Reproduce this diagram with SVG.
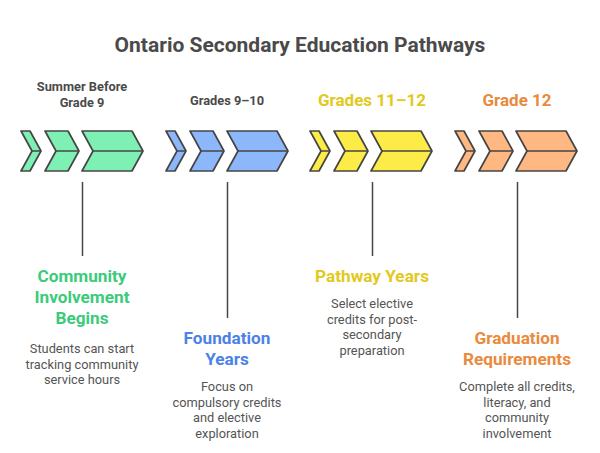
<svg xmlns="http://www.w3.org/2000/svg" width="600" height="453" viewBox="0 0 600 453">
<style>
text{font-family:Roboto,"Liberation Sans",sans-serif;text-anchor:middle}
.title{font-size:21px;font-weight:bold;fill:#4a4a4a}
.lab{font-size:12.8px;font-weight:bold;fill:#4a4a4a}
.labc{font-size:17px;font-weight:bold}
.head{font-size:17.2px;font-weight:bold}
.desc{font-size:12.8px;fill:#555}
.chev{stroke:#454545;stroke-width:1.7;stroke-linejoin:round}
.mid{stroke:#454545;stroke-width:1.3}
.conn{stroke:#454545;stroke-width:1.5}
.g{fill:#7ff0b4}.b{fill:#8db7fb}.y{fill:#fdeb48}.o{fill:#ffb882}
.tg{fill:#3ccb7a}.tb{fill:#4c82e8}.ty{fill:#e2c91c}.to{fill:#e98a3c}
</style>
<defs>
<g id="chevs">
<path class="chev" d="M21,131 H30 L41,151 L30,171 H21 L32,151 Z"/>
<path class="chev" d="M45,131 H68 L79,151 L68,171 H45 L56,151 Z"/>
<path class="chev" d="M82,131 H132 L143,151 L132,171 H82 L93,151 Z"/>
<path class="mid" d="M32,151 H41 M56,151 H79 M93,151 H143"/>
</g>
</defs>
<text class="title" x="300" y="52">Ontario Secondary Education Pathways</text>
<g id="connectors">
<line class="conn" x1="82.5" y1="182" x2="82.5" y2="256"/>
<line class="conn" x1="227.5" y1="182" x2="227.5" y2="318"/>
<line class="conn" x1="372.5" y1="182" x2="372.5" y2="256"/>
<line class="conn" x1="517.5" y1="182" x2="517.5" y2="318"/>
</g>
<g id="node1">
<text class="lab" x="82" y="91">Summer Before</text>
<text class="lab" x="82" y="107">Grade 9</text>
<use href="#chevs" class="g"/>
<text class="head tg" x="82" y="282">Community</text>
<text class="head tg" x="82" y="303">Involvement</text>
<text class="head tg" x="82" y="324">Begins</text>
<text class="desc" x="82" y="353">Students can start</text>
<text class="desc" x="82" y="369">tracking community</text>
<text class="desc" x="82" y="384">service hours</text>
</g>
<g id="node2">
<text class="lab" x="227" y="105">Grades 9–10</text>
<use href="#chevs" class="b" x="145"/>
<text class="head tb" x="227" y="344">Foundation</text>
<text class="head tb" x="227" y="365">Years</text>
<text class="desc" x="227" y="391">Focus on</text>
<text class="desc" x="227" y="407">compulsory credits</text>
<text class="desc" x="227" y="422">and elective</text>
<text class="desc" x="227" y="438">exploration</text>
</g>
<g id="node3">
<text class="labc ty" x="372" y="106">Grades 11–12</text>
<use href="#chevs" class="y" x="289"/>
<text class="head ty" x="372" y="282">Pathway Years</text>
<text class="desc" x="372" y="308">Select elective</text>
<text class="desc" x="372" y="324">credits for post-</text>
<text class="desc" x="372" y="339">secondary</text>
<text class="desc" x="372" y="355">preparation</text>
</g>
<g id="node4">
<text class="labc to" x="517" y="106">Grade 12</text>
<use href="#chevs" class="o" x="434"/>
<text class="head to" x="517" y="344">Graduation</text>
<text class="head to" x="517" y="365">Requirements</text>
<text class="desc" x="517" y="391">Complete all credits,</text>
<text class="desc" x="517" y="407">literacy, and</text>
<text class="desc" x="517" y="422">community</text>
<text class="desc" x="517" y="438">involvement</text>
</g>
</svg>
